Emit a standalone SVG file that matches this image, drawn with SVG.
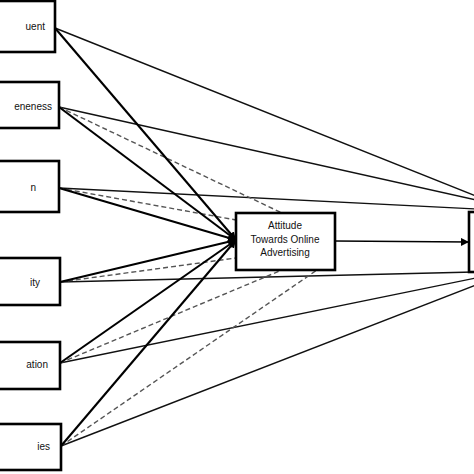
<svg xmlns="http://www.w3.org/2000/svg" width="474" height="474" viewBox="0 0 474 474">
<style>
.box{fill:#fff;stroke:#000;stroke-width:2.6}
.t{font-family:"Liberation Sans",Arial,sans-serif;font-size:10px;fill:#111}
.thin{stroke:#111;stroke-width:1.4;fill:none}
.thick{stroke:#000;stroke-width:2.1;fill:none}
.dash{stroke:#555;stroke-width:1.4;stroke-dasharray:5 3;fill:none}
</style>
<defs>
<marker id="ah" markerUnits="userSpaceOnUse" markerWidth="9" markerHeight="8" refX="8" refY="4" orient="auto">
<path d="M0,0 L8,4 L0,8 Z" fill="#000"/>
</marker>
</defs>
<rect width="474" height="474" fill="#fff"/>
<g id="connectors">
<line class="thin" x1="55" y1="28" x2="476" y2="196"/>
<line class="thin" x1="59" y1="107" x2="476" y2="200"/>
<line class="thin" x1="59" y1="188" x2="476" y2="209"/>
<line class="thin" x1="60" y1="282" x2="476" y2="272"/>
<line class="thin" x1="60" y1="363" x2="476" y2="278"/>
<line class="thin" x1="61" y1="446" x2="476" y2="285"/>
<line class="dash" x1="59" y1="107" x2="282" y2="213"/>
<line class="dash" x1="59" y1="188" x2="236" y2="220"/>
<line class="dash" x1="60" y1="282" x2="236" y2="258"/>
<line class="dash" x1="60" y1="363" x2="282" y2="270"/>
<line class="dash" x1="61" y1="446" x2="317" y2="270"/>
<line class="thick" x1="55" y1="28" x2="236" y2="240" marker-end="url(#ah)"/>
<line class="thick" x1="59" y1="107" x2="236" y2="240" marker-end="url(#ah)"/>
<line class="thick" x1="59" y1="188" x2="236" y2="240" marker-end="url(#ah)"/>
<line class="thick" x1="60" y1="282" x2="236" y2="240" marker-end="url(#ah)"/>
<line class="thick" x1="60" y1="363" x2="236" y2="240" marker-end="url(#ah)"/>
<line class="thick" x1="61" y1="446" x2="236" y2="240" marker-end="url(#ah)"/>
<line x1="335" y1="241" x2="469" y2="242" stroke="#000" stroke-width="1.6" marker-end="url(#ah)"/>
</g>
<g id="n1"><rect class="box" x="-60" y="1" width="115" height="51"/><text class="t" x="45" y="30" text-anchor="end">uent</text></g>
<g id="n2"><rect class="box" x="-60" y="82" width="119" height="46"/><text class="t" x="52" y="110" text-anchor="end">eneness</text></g>
<g id="n3"><rect class="box" x="-60" y="161" width="119" height="51"/><text class="t" x="36" y="191" text-anchor="end">n</text></g>
<g id="n4"><rect class="box" x="-60" y="258" width="120" height="47"/><text class="t" x="40" y="286" text-anchor="end">ity</text></g>
<g id="n5"><rect class="box" x="-60" y="342" width="120" height="47"/><text class="t" x="48" y="368" text-anchor="end">ation</text></g>
<g id="n6"><rect class="box" x="-60" y="424" width="121" height="46"/><text class="t" x="50" y="450" text-anchor="end">ies</text></g>
<g id="mediator"><rect class="box" x="236" y="213" width="99" height="57"/>
<text class="t" x="285" y="229" text-anchor="middle">Attitude</text>
<text class="t" x="285" y="243" text-anchor="middle">Towards Online</text>
<text class="t" x="285" y="256" text-anchor="middle">Advertising</text></g>
<g id="outcome"><rect class="box" x="469" y="212" width="30" height="60"/></g>
</svg>
